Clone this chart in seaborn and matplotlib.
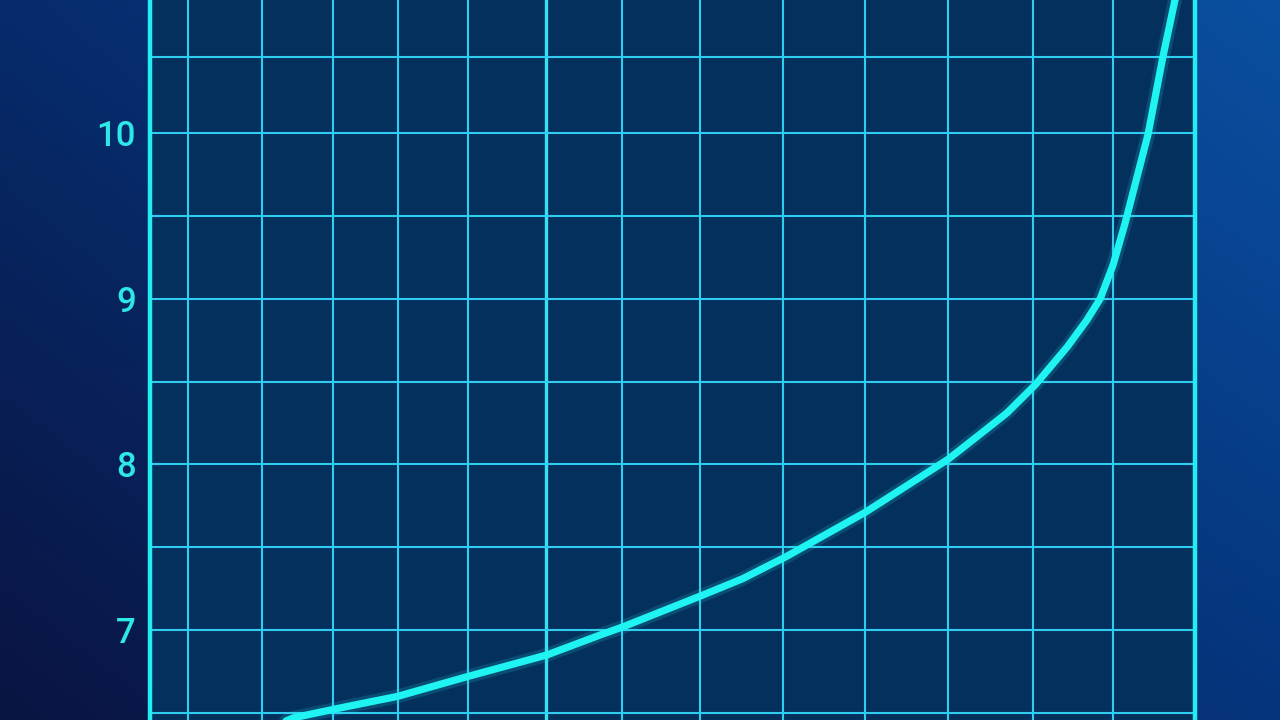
import numpy as np
import pandas as pd
import matplotlib
matplotlib.use("Agg")
import matplotlib.pyplot as plt
import seaborn as sns
from matplotlib.colors import to_rgb

# curve (x in grid units, left border = 0, right border = 14)
curve_x = [1.61, 1.92, 2.55, 3.32, 4.26, 5.32, 6.03, 6.34, 7.40, 7.94,
           8.51, 9.58, 10.69, 11.03, 11.48, 11.86, 12.29, 12.55,
           12.73, 12.90, 13.06, 13.37, 13.57, 13.73, 13.80]
curve_y = [6.41, 6.47, 6.53, 6.60, 6.72, 6.85, 6.97, 7.02, 7.21, 7.31,
           7.44, 7.71, 8.03, 8.15, 8.31, 8.48, 8.71, 8.87,
           9.00, 9.20, 9.45, 9.99, 10.46, 10.80, 10.89]

# vertical grid lines (uneven spacing in the original)
grid_x = [0.51, 1.50, 2.45, 3.32, 4.26, 5.31, 6.32, 7.37, 8.48, 9.58,
          10.69, 11.83, 12.90]
major_x = 5.31
y_ticks = [7, 8, 9, 10]
y_minor = [6.5, 7.5, 8.5, 9.5, 10.46]
y_labels = ["7", "8", "9", "10"]

df = pd.DataFrame({"x": curve_x, "y": curve_y})

sns.set_theme(style="dark")
plt.rcParams["font.family"] = ["Roboto", "DejaVu Sans"]

cyan = "#1ff4f2"
grid_col = "#2fcdf0"

fig = plt.figure(figsize=(12.8, 7.2), dpi=100)

# background gradient
bg = fig.add_axes([0, 0, 1, 1], zorder=0)
h, w = 72, 128
tl, tr = np.array(to_rgb("#062b6b")), np.array(to_rgb("#0a4fa0"))
bl, br = np.array(to_rgb("#0a1442")), np.array(to_rgb("#05347c"))
u = np.linspace(0, 1, w)[None, :, None]
v = np.linspace(0, 1, h)[:, None, None]
img = (1 - v) * ((1 - u) * tl + u * tr) + v * ((1 - u) * bl + u * br)
bg.imshow(img, aspect="auto", extent=[0, 1, 0, 1], interpolation="bicubic")
bg.axis("off")

ax = fig.add_axes([150 / 1280, 0, 1045 / 1280, 1], zorder=1)
ax.set_facecolor("#04305e")

for gx in grid_x:
    lw = 2.4 if gx == major_x else 1.5
    col = "#34e2f2" if gx == major_x else grid_col
    ax.axvline(gx, color=col, lw=lw, zorder=1)
for gy in y_ticks + y_minor:
    ax.axhline(gy, color=grid_col, lw=1.5, zorder=1)

# glow + line
sns.lineplot(data=df, x="x", y="y", ax=ax, color=cyan, linewidth=10,
             alpha=0.15, sort=False, zorder=3)
sns.lineplot(data=df, x="x", y="y", ax=ax, color=cyan, linewidth=5.2,
             sort=False, zorder=4)

ax.set_xlim(0, 14)
ax.set_ylim(6.457, 10.803)
ax.set_xticks([])
ax.set_yticks(y_ticks)
ax.set_yticklabels(y_labels, color="#2ee8e8", fontsize=25, fontweight="medium")
ax.tick_params(axis="y", length=0, pad=10)
ax.set_xlabel("")
ax.set_ylabel("")
ax.grid(False)

for side in ["top", "bottom"]:
    ax.spines[side].set_visible(False)
for side in ["left", "right"]:
    ax.spines[side].set_visible(True)
    ax.spines[side].set_color("#22eef2")
    ax.spines[side].set_linewidth(3.2)

fig.savefig("out.png", dpi=100)
plt.close(fig)
